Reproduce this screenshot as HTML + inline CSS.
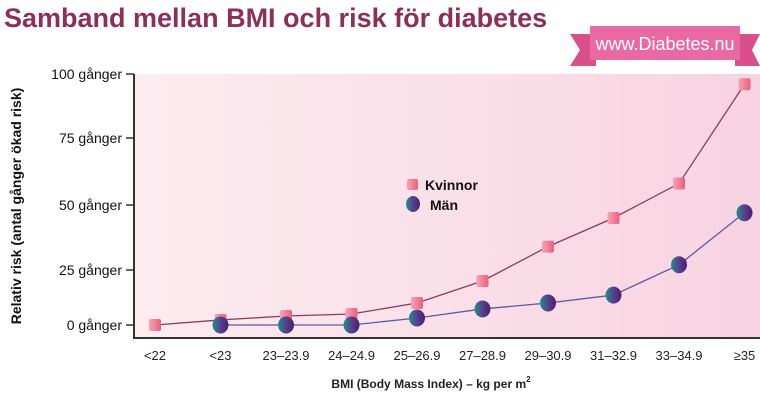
<!DOCTYPE html>
<html><head><meta charset="utf-8"><style>
body{margin:0;background:#fff;}
svg{display:block;font-family:"Liberation Sans",sans-serif;}
</style></head><body>
<svg width="760" height="402" viewBox="0 0 760 402">
<defs>
<linearGradient id="bg" x1="0" x2="1"><stop offset="0" stop-color="#fcecf0"/><stop offset="1" stop-color="#f8d3e1"/></linearGradient>
<linearGradient id="sq" x1="0" x2="1"><stop offset="0" stop-color="#f7a3b6"/><stop offset="1" stop-color="#e9607e"/></linearGradient>
<linearGradient id="ci" x1="0" x2="1"><stop offset="0" stop-color="#1e8f8a"/><stop offset="0.55" stop-color="#5a3a8c"/><stop offset="1" stop-color="#4a1f6e"/></linearGradient>
</defs>
<text x="4" y="27" font-size="27" font-weight="bold" fill="#8c2f5b">Samband mellan BMI och risk för diabetes</text>
<g>
<polygon points="570,34 596,34 596,66 570,66 580,50" fill="#d94f8c"/>
<polygon points="735,34 760,34 752,50 760,66 735,66" fill="#d94f8c"/>
<rect x="590" y="26" width="150" height="34" fill="#e96aa3"/>
<text x="665" y="50" font-size="18" fill="#fff" text-anchor="middle">www.Diabetes.nu</text>
</g>
<rect x="134" y="74" width="626" height="264" fill="url(#bg)"/>
<line x1="134" y1="74" x2="134" y2="339" stroke="#333" stroke-width="2"/>
<line x1="133" y1="338" x2="760" y2="338" stroke="#333" stroke-width="2"/>
<g id="yt"></g><g id="xt"></g><g id="lines"></g><g id="marks"></g>
<text transform="translate(21,206) rotate(-90)" font-size="14" font-weight="bold" text-anchor="middle" fill="#111">Relativ risk (antal gånger ökad risk)</text>
<text x="431" y="388" font-size="12" font-weight="bold" text-anchor="middle" fill="#222">BMI (Body Mass Index) – kg per m<tspan dy="-6" font-size="8">2</tspan></text>
<g>
<rect x="407" y="179" width="11" height="11" rx="2" fill="url(#sq)"/>
<text x="425" y="190" font-size="14" font-weight="bold" fill="#111">Kvinnor</text>
<ellipse cx="413" cy="204" rx="7" ry="8" fill="url(#ci)"/>
<text x="430" y="210" font-size="14" font-weight="bold" fill="#111">Män</text>
</g>
</svg>
<script>
const categories=["<22","<23","23–23.9","24–24.9","25–26.9","27–28.9","29–30.9","31–32.9","33–34.9","≥35"];
const kvinnor=[0,2.3,4.1,5,10,20,34,45,58,96];
const man=[null,0,0,0,3.2,7.3,10,13.6,27,47];
const yTicks=[0,25,50,75,100];
const yTickLabels=["0 gånger","25 gånger","50 gånger","75 gånger","100 gånger"];
const ns="http://www.w3.org/2000/svg";
const tickPx=[325,270,205,138,74];
function y(v){for(let i=0;i<yTicks.length-1;i++){if(v<=yTicks[i+1]){const t=(v-yTicks[i])/(yTicks[i+1]-yTicks[i]);return tickPx[i]+t*(tickPx[i+1]-tickPx[i]);}}return tickPx[4];}
function x(i){return 155+i*65.5;}
function mk(tag,a,p){const e=document.createElementNS(ns,tag);for(const k in a)e.setAttribute(k,a[k]);p.appendChild(e);return e;}
const yt=document.getElementById('yt'),xt=document.getElementById('xt'),L=document.getElementById('lines'),M=document.getElementById('marks');
yTicks.forEach((v,i)=>{const t=mk('text',{x:122,y:y(v)+5,'font-size':14,'text-anchor':'end',fill:'#111'},yt);t.textContent=yTickLabels[i];


const l=mk('line',{x1:126,x2:134,y1:y(v),y2:y(v),stroke:'#333','stroke-width':1.5},yt);

});
categories.forEach((c,i)=>{const t=mk('text',{x:x(i),y:360,'font-size':13,'text-anchor':'middle',fill:'#222'},xt);t.textContent=c;

});
function line(d,col,name){const pts=[];d.forEach((v,i)=>{if(v!=null)pts.push(x(i)+','+y(v));});const p=mk('polyline',{points:pts.join(' '),fill:'none',stroke:col,'stroke-width':1.3},L);

}
line(kvinnor,'#8e3a5e','kvinnor-line');line(man,'#5a5aa8','man-line');
kvinnor.forEach((v,i)=>{const r=mk('rect',{x:x(i)-6,y:y(v)-6,width:12,height:12,rx:2,fill:'url(#sq)'},M);

});
man.forEach((v,i)=>{if(v==null)return;const c=mk('ellipse',{cx:x(i),cy:y(v),rx:8,ry:8.5,fill:'url(#ci)'},M);

});
</script>
</body></html>
